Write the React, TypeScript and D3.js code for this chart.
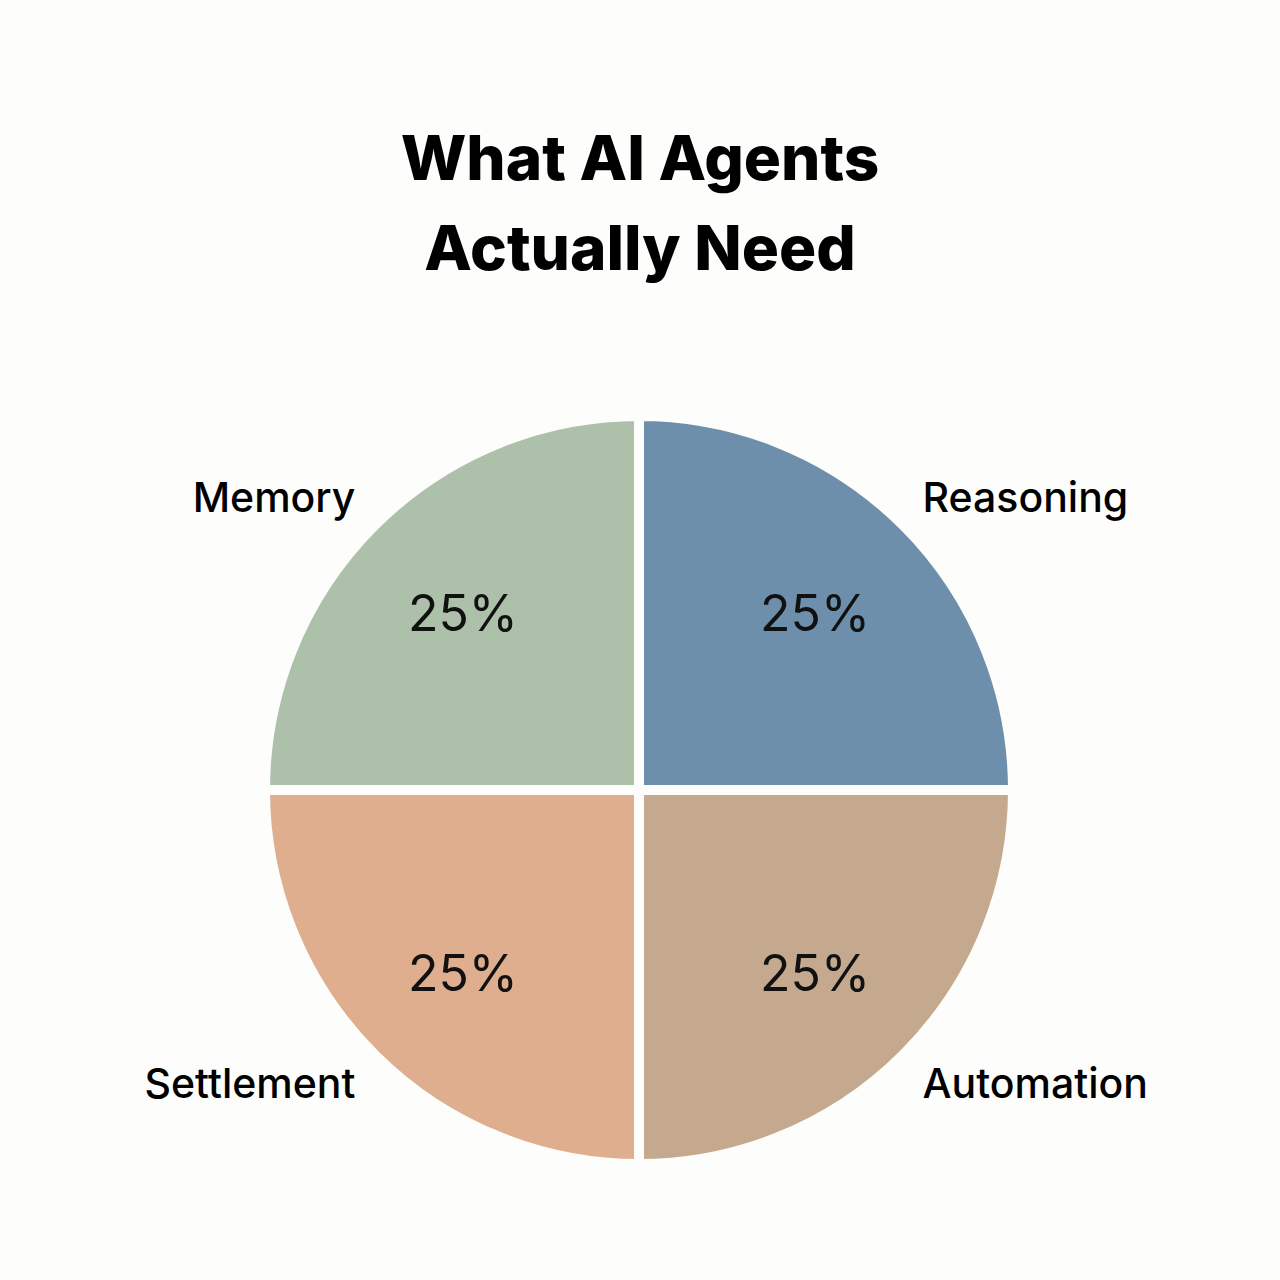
import React from 'react';
import * as d3 from 'd3';

const categories = ['Reasoning', 'Automation', 'Settlement', 'Memory'];
const shares = [25, 25, 25, 25];
const colors = ['#6e8fab', '#c4a98e', '#deae8f', '#adc0aa'];
const titleLines = ['What AI Agents', 'Actually Need'];

const W = 1280;
const H = 1280;
const cx = 639;
const cy = 790;
const radius = 374;

const App: React.FC = () => {
  const pie = d3.pie<number>().sort(null).value(d => d);
  const arcs = pie(shares);
  const arc = d3.arc<d3.PieArcDatum<number>>().innerRadius(0).outerRadius(radius);
  const innerX = d3.arc<d3.PieArcDatum<number>>().innerRadius(249).outerRadius(249);
  const innerY = d3.arc<d3.PieArcDatum<number>>().innerRadius(254).outerRadius(254);
  // labels sit a bit further out vertically than horizontally
  const outerX = d3.arc<d3.PieArcDatum<number>>().innerRadius(401).outerRadius(401);
  const outerY = d3.arc<d3.PieArcDatum<number>>().innerRadius(415).outerRadius(415);

  return (
    <svg width={W} height={H} style={{ display: 'block', position: 'absolute', left: 0, top: 0 }}>
      <rect width={W} height={H} fill="#fdfdfb" />
      <g fontFamily="Inter, 'Noto Sans', sans-serif">
        {titleLines.map((t, i) => (
          <text key={t} x={640} y={180 + i * 90} textAnchor="middle" fontSize={62} fontWeight={800} fill="#000">
            {t}
          </text>
        ))}
        <g transform={`translate(${cx},${cy})`}>
          {arcs.map((a, i) => (
            <path key={categories[i]} d={arc(a) || ''} fill={colors[i]} stroke="#fdfdfb" strokeWidth={10} strokeLinejoin="miter" />
          ))}
          {arcs.map((a, i) => {
            const x = innerX.centroid(a)[0];
            const y = innerY.centroid(a)[1];
            return (
              <text key={'p' + i} x={x} y={y + 3} textAnchor="middle" dominantBaseline="central" fontSize={50} fill="#111">
                {`${shares[i]}%`}
              </text>
            );
          })}
          {arcs.map((a, i) => {
            const x = outerX.centroid(a)[0];
            const y = outerY.centroid(a)[1];
            return (
              <text key={'l' + i} x={x} y={y} textAnchor={x < 0 ? 'end' : 'start'} dominantBaseline="central" fontSize={41} fontWeight={500} fill="#000">
                {categories[i]}
              </text>
            );
          })}
        </g>
      </g>
    </svg>
  );
};

export default App;
